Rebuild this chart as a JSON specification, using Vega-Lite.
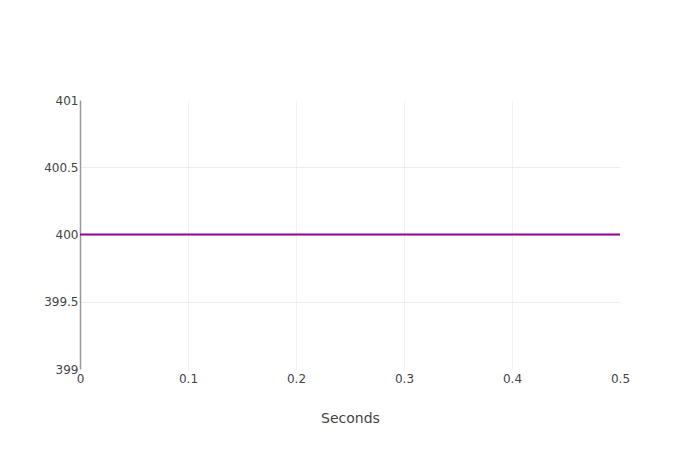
{
  "$schema": "https://vega.github.io/schema/vega-lite/v6.json",
  "width": 540,
  "height": 269,
  "autosize": {"type": "none"},
  "padding": {"left": 80, "top": 100, "right": 80, "bottom": 81},
  "background": "white",
  "data": {
    "values": [
      {"t": 0, "v": 400},
      {"t": 0.1, "v": 400},
      {"t": 0.2, "v": 400},
      {"t": 0.3, "v": 400},
      {"t": 0.4, "v": 400},
      {"t": 0.5, "v": 400}
    ]
  },
  "mark": {"type": "line", "color": "#990099", "strokeWidth": 2, "clip": true},
  "encoding": {
    "x": {
      "field": "t",
      "type": "quantitative",
      "title": "Seconds",
      "scale": {"domain": [0, 0.5], "nice": false, "zero": false},
      "axis": {
        "values": [0, 0.1, 0.2, 0.3, 0.4, 0.5],
        "labelExpr": "datum.value + ''",
        "domain": false,
        "ticks": false,
        "grid": true,
        "gridColor": "#f2f2f2",
        "gridOpacity": {"condition": {"test": "datum.value == 0.5 || datum.value == 0", "value": 0}, "value": 1},
        "labelPadding": 4,
        "titlePadding": 27
      }
    },
    "y": {
      "field": "v",
      "type": "quantitative",
      "title": null,
      "scale": {"domain": [399, 401], "nice": false, "zero": false},
      "axis": {
        "values": [399, 399.5, 400, 400.5, 401],
        "labelExpr": "datum.value + ''",
        "domain": true,
        "domainColor": "#999999",
        "domainWidth": 1.5,
        "ticks": false,
        "grid": true,
        "gridColor": "#eeeeee",
        "gridOpacity": {"condition": {"test": "datum.value == 399 || datum.value == 401", "value": 0}, "value": 1},
        "labelPadding": 2
      }
    }
  },
  "config": {
    "view": {"stroke": null},
    "font": "DejaVu Sans",
    "axis": {
      "labelFont": "DejaVu Sans",
      "labelFontSize": 12,
      "labelColor": "#444444",
      "titleFont": "DejaVu Sans",
      "titleFontSize": 14,
      "titleFontWeight": "normal",
      "titleColor": "#444444",
      "labelFlush": false,
      "labelOverlap": false
    }
  }
}
